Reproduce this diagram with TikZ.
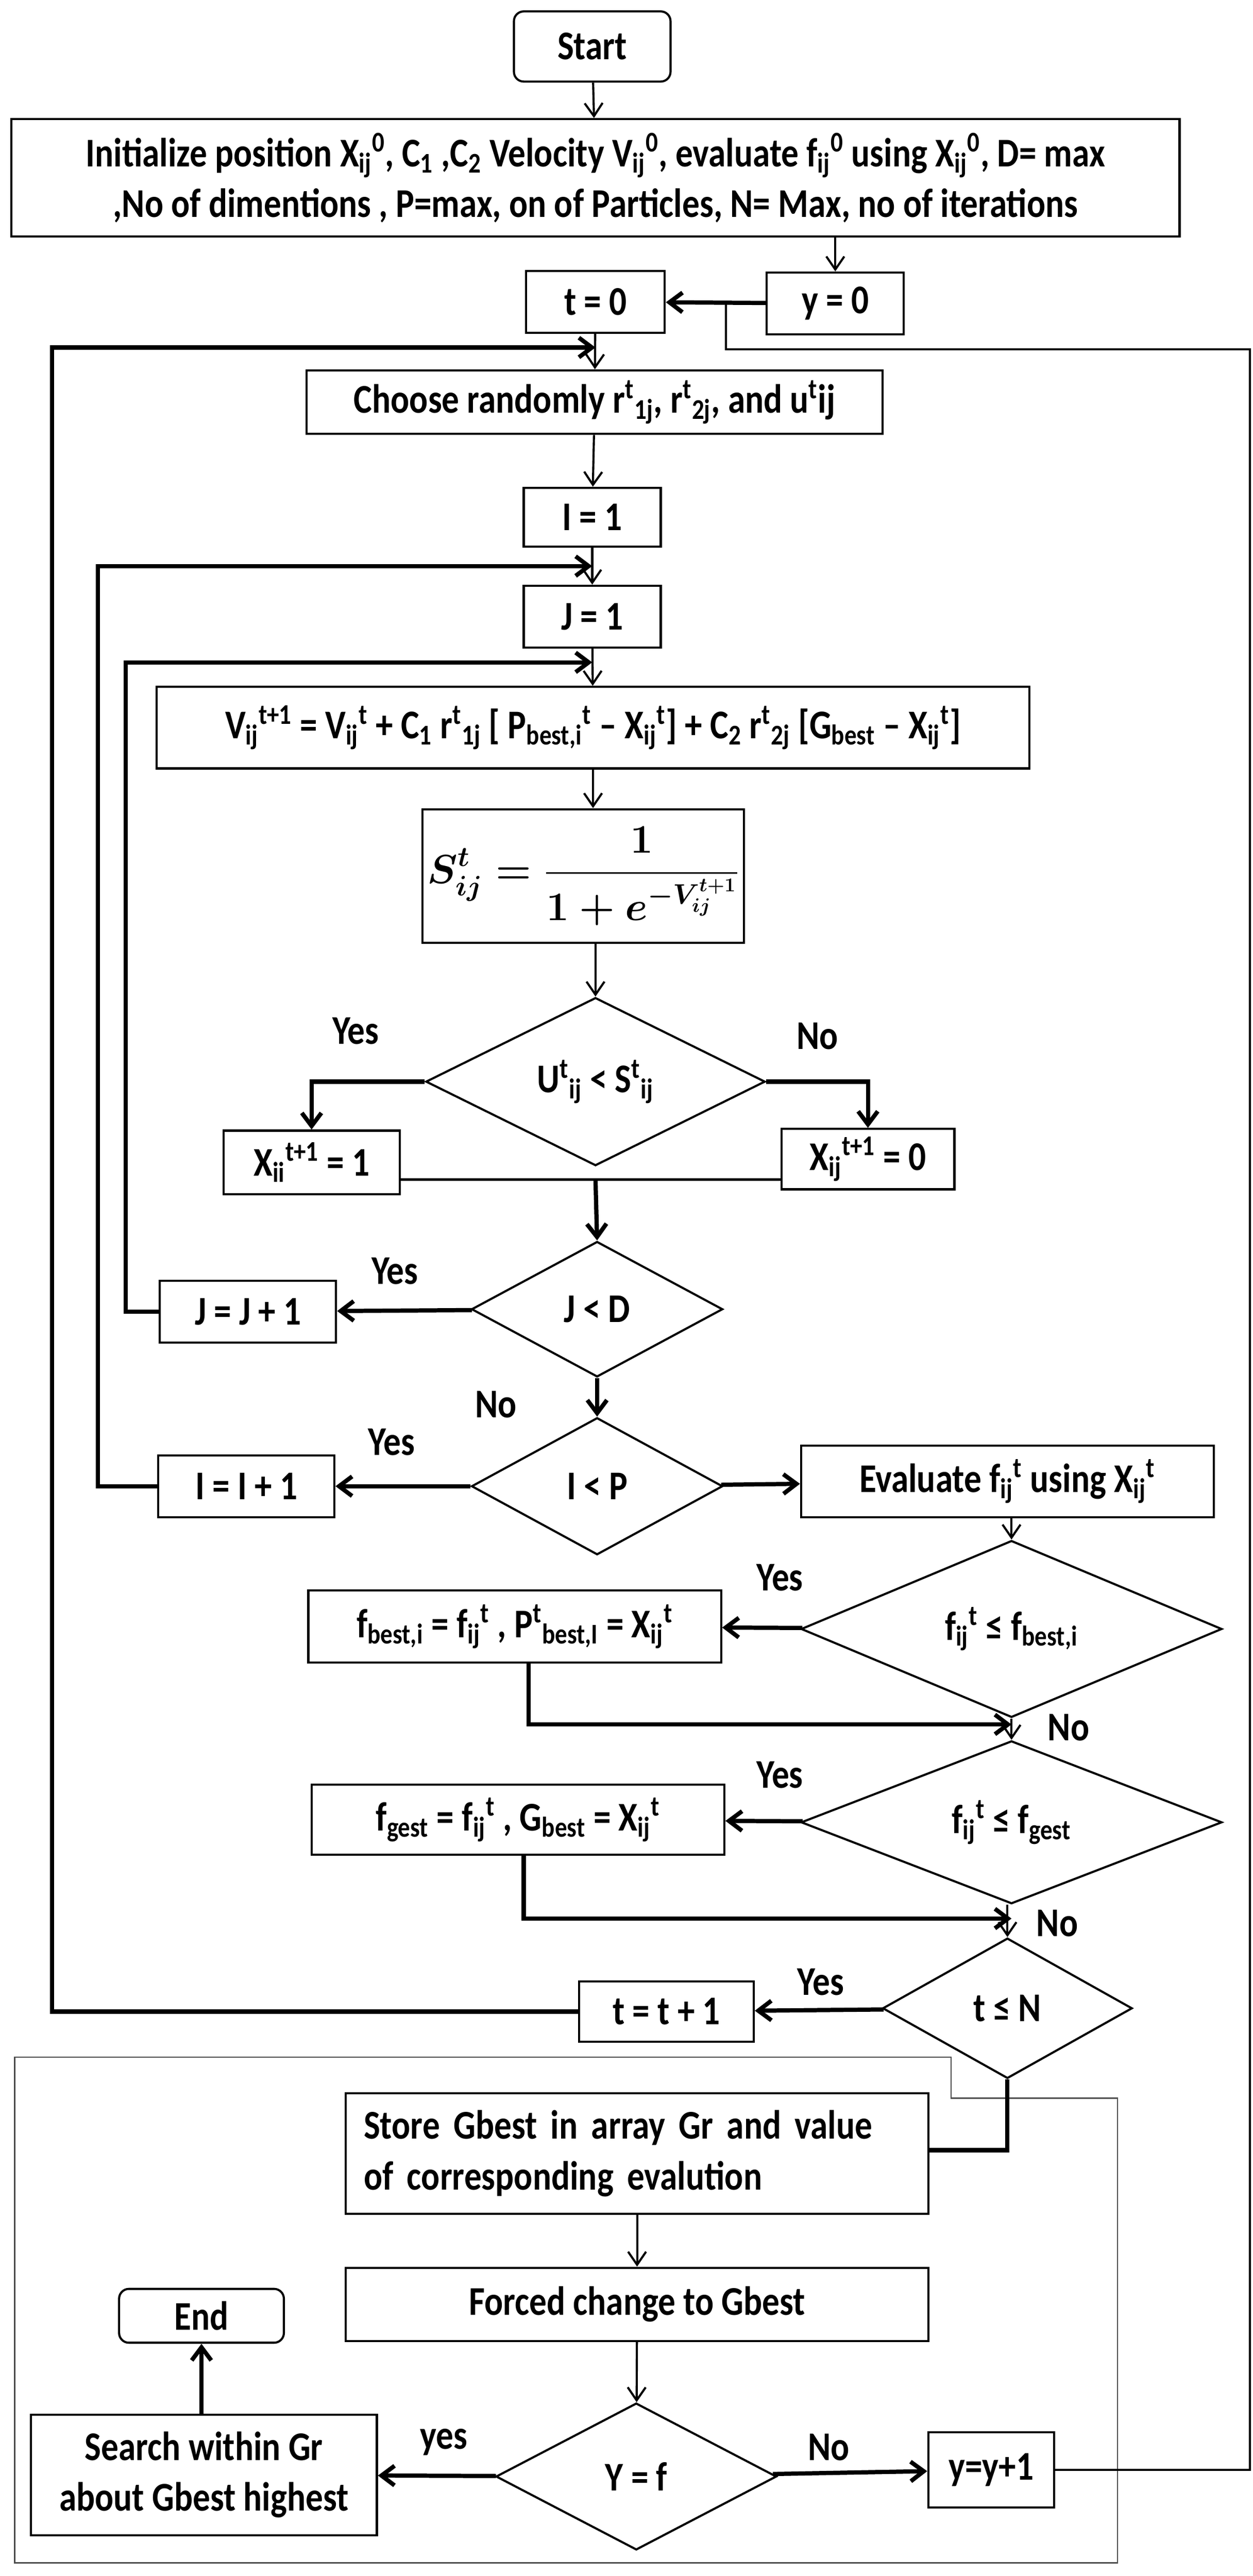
\documentclass[tikz,border=0pt]{standalone}
\usepackage{amsmath}
\usepackage{fontspec}
\setmainfont{Carlito}[FakeStretch=0.85]
\usetikzlibrary{shapes.geometric,arrows.meta}
\newcommand\lo[1]{\textsubscript{#1}}
\newcommand\hi[1]{\textsuperscript{#1}}
\begin{document}
\begin{tikzpicture}[x=1pt,y=-1pt,
  every node/.style={font=\fontsize{25}{31}\selectfont\bfseries},
  box/.style={draw,line width=1.3pt,inner sep=0pt,minimum width=#1,align=center},
  dia/.style={draw,diamond,line width=1.3pt,inner sep=0pt,minimum width=#1},
  lbl/.style={font=\fontsize{25}{28}\selectfont\bfseries},
  ar/.style={line width=1.3pt,-{Straight Barb[length=8pt,width=11pt]}},
  tar/.style={line width=2.6pt,-{Straight Barb[length=8pt,width=12pt]}},
  ln/.style={line width=1.3pt},
  tln/.style={line width=2.6pt}]
\useasboundingbox (0,0) rectangle (768,1579);
% outer thin region
\draw[line width=0.8pt,black!70] (9,1261) -- (583,1261) -- (583,1286) -- (685,1286) -- (685,1571) -- (9,1571) -- cycle;
\node[box=96pt,minimum height=43pt,rounded corners=6pt] (start) at (363,28.5) {Start};
\node[box=716pt,minimum height=72pt] (init) at (365,109) {Initialize position X\lo{ij}\hi{0}, C\lo{1} ,C\lo{2} Velocity V\lo{ij}\hi{0}, evaluate f\lo{ij}\hi{0} using X\lo{ij}\hi{0}, D= max\\,No of dimentions , P=max, on of Particles, N= Max, no of iterations};
\node[box=84pt,minimum height=38pt] (y0) at (512,186) {y = 0};
\node[box=85pt,minimum height=38pt] (t0) at (365,185) {t = 0};
\node[box=353pt,minimum height=39pt] (choose) at (364.5,246.5) {Choose randomly r\hi{t}\lo{1j}, r\hi{t}\lo{2j}, and u\hi{t}ij};
\node[box=84pt,minimum height=36pt] (I1) at (363,317) {I = 1};
\node[box=84pt,minimum height=38pt] (J1) at (363,378) {J = 1};
\node[box=535pt,minimum height=50pt] (V) at (363.5,446) {V\lo{ij}\hi{t+1} = V\lo{ij}\hi{t} + C\lo{1} r\hi{t}\lo{1j} [ P\lo{best,i}\hi{t} – X\lo{ij}\hi{t}] + C\lo{2} r\hi{t}\lo{2j} [G\lo{best} – X\lo{ij}\hi{t}]};
\node[box=197pt,minimum height=82pt,font=\fontsize{24}{26}\selectfont\boldmath] (S) at (357.5,537) {$\displaystyle S^t_{ij}=\frac{1}{1+e^{-V_{ij}^{t+1}}}$};
\node[dia=208pt,minimum height=103pt] (dU) at (365,663) {U\hi{t}\lo{ij} < S\hi{t}\lo{ij}};
\node[box=108pt,minimum height=39pt] (X1) at (191,712.5) {X\lo{ii}\hi{t+1} = 1};
\node[box=106pt,minimum height=37pt] (X0) at (532,710.5) {X\lo{ij}\hi{t+1} = 0};
\node[dia=154pt,minimum height=83pt] (dJ) at (366,802.5) {J < D};
\node[box=108pt,minimum height=38pt] (Jp) at (152,804) {J = J + 1};
\node[dia=154pt,minimum height=84pt] (dI) at (366,911) {I < P};
\node[box=108pt,minimum height=38pt] (Ip) at (151,911) {I = I + 1};
\node[box=253pt,minimum height=44pt] (eval) at (617.5,908) {Evaluate f\lo{ij}\hi{t} using X\lo{ij}\hi{t}};
\node[dia=258pt,minimum height=97pt] (dfb) at (620,998.5) {f\lo{ij}\hi{t} ≤ f\lo{best,i}};
\node[box=253pt,minimum height=44pt] (fb) at (315.5,997) {f\lo{best,i} = f\lo{ij}\hi{t} , P\hi{t}\lo{best,I} = X\lo{ij}\hi{t}};
\node[dia=258pt,minimum height=96pt] (dfg) at (620,1117) {f\lo{ij}\hi{t} ≤ f\lo{gest}};
\node[box=253pt,minimum height=43pt] (fg) at (317.5,1115.5) {f\lo{gest} = f\lo{ij}\hi{t} , G\lo{best} = X\lo{ij}\hi{t}};
\node[dia=153pt,minimum height=86pt] (dt) at (617.5,1231) {t ≤ N};
\node[box=107pt,minimum height=37pt] (tt) at (408.5,1233) {t = t + 1};
\node[box=357pt,minimum height=74pt,align=left,text width=335pt] (store) at (390.5,1320) {Store Gbest in array Gr and value\\of corresponding evalution};
\node[box=357pt,minimum height=45pt] (forced) at (390.5,1412.5) {Forced change to Gbest};
\node[dia=172pt,minimum height=90pt] (dY) at (390,1518) {Y = f};
\node[box=212pt,minimum height=74pt] (search) at (125,1517) {Search within Gr\\about Gbest highest};
\node[box=101pt,minimum height=33pt,rounded corners=6pt] (end) at (123.5,1419.5) {End};
\node[box=77pt,minimum height=46pt] (yy) at (607.5,1514) {y=y+1};
% helper coordinates
\coordinate (rA) at (766,1514);
\coordinate (rB) at (766,214);
\coordinate (rC) at (445,214);
\coordinate (rD) at (445,185);
\coordinate (lA) at (32,1233);
\coordinate (lB) at (32,213);
\coordinate (lT) at (365,213);
\coordinate (jA) at (60,911);
\coordinate (jB) at (60,347);
\coordinate (jT) at (363,347);
\coordinate (kA) at (77,804);
\coordinate (kB) at (77,406);
\coordinate (kT) at (363,406);
\coordinate (m) at (365,723);
\coordinate (fbA) at (324,1057);
\coordinate (fbT) at (620,1057);
\coordinate (fgA) at (321,1176);
\coordinate (fgT) at (620,1176);
\coordinate (sA) at (617.5,1318);
% connectors
\draw[ar] (start) -- (init);
\draw[ar] (init.south -| y0) -- (y0.north);
\draw[tar] (y0) -- (t0);
\draw[ln] (yy.east) -- (rA) -- (rB) -- (rC) -- (rD);
\draw[ar] (t0) -- (choose);
\draw[tar] (tt.west) -- (lA) -- (lB) -- (lT);
\draw[ar] (choose) -- (I1);
\draw[ar] (I1) -- (J1);
\draw[ar] (J1) -- (V);
\draw[ar] (V) -- (S.north -| V.south);
\draw[ar] (S.south -| dU.north) -- (dU.north);
\draw[tar] (dU.west) -| (X1.north);
\draw[tar] (dU.east) -| (X0.north);
\draw[ln] (X1.east |- m) -- (X0.west |- m);
\draw[tar] (m) -- (dJ.north);
\draw[tar] (dJ) -- (Jp);
\draw[tar] (Jp.west) -- (kA) -- (kB) -- (kT);
\draw[tar] (dJ) -- (dI);
\draw[tar] (dI) -- (Ip);
\draw[tar] (Ip.west) -- (jA) -- (jB) -- (jT);
\draw[tar] (dI) -- (eval);
\draw[ar] (eval.south -| dfb.north) -- (dfb.north);
\draw[tar] (dfb) -- (fb);
\draw[tar] (fb.south -| fbA) -- (fbA) -- (fbT);
\draw[ar] (dfb) -- (dfg);
\draw[tar] (dfg) -- (fg);
\draw[tar] (fg.south -| fgA) -- (fgA) -- (fgT);
\draw[ar] (dfg.south -| dt.north) -- (dt.north);
\draw[tar] (dt) -- (tt);
\draw[tln] (dt.south) -- (sA) -- (store.east |- sA);
\draw[ar] (store) -- (forced);
\draw[ar] (forced) -- (dY);
\draw[tar] (dY) -- (search);
\draw[tar] (dY) -- (yy);
\draw[tar] (search.north -| end) -- (end);
% labels
\node[lbl] (l1) at (218,632) {Yes};
\node[lbl] (l2) at (501,635) {No};
\node[lbl] (l3) at (242,779) {Yes};
\node[lbl] (l4) at (304,861) {No};
\node[lbl] (l5) at (240,884) {Yes};
\node[lbl] (l6) at (478,967) {Yes};
\node[lbl] (l7) at (655,1059) {No};
\node[lbl] (l8) at (478,1088) {Yes};
\node[lbl] (l9) at (648,1179) {No};
\node[lbl] (l10) at (503,1215) {Yes};
\node[lbl] (l11) at (272,1497) {yes};
\node[lbl] (l12) at (508,1500) {No};
\end{tikzpicture}
\end{document}
